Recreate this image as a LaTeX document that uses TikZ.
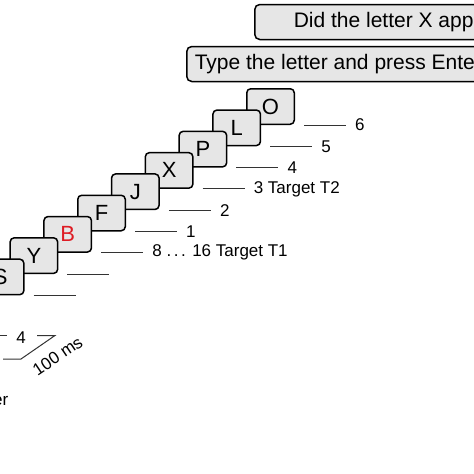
\documentclass[tikz,border=0pt]{standalone}
\usepackage{fontspec}
\setmainfont{Liberation Sans}
\usetikzlibrary{positioning}
\definecolor{keygray}{RGB}{230,230,230}
\definecolor{targetred}{RGB}{222,28,36}

\begin{document}
\begin{tikzpicture}[x=1pt, y=-1pt,
    letterbox/.style={draw, line width=1.5pt, fill=keygray, rounded corners=4pt, minimum width=47.5pt, minimum height=35.5pt, inner sep=0pt, font=\fontsize{22}{26}\selectfont},
    prompt/.style={draw, line width=1.5pt, fill=keygray, rounded corners=5pt, minimum height=35pt, inner ysep=0pt, anchor=west, font=\fontsize{21}{25}\selectfont},
    tick/.style={line width=1pt, black!80},
    count/.style={anchor=west, inner sep=0pt, font=\fontsize{17}{20}\selectfont}
]
\useasboundingbox (0,0) rectangle (474,474);
\clip (0,0) rectangle (474,474);
% prompts
\node[prompt, inner xsep=39pt] (ask) at (254,22) {Did the letter X appear?};
\node[prompt, inner xsep=8pt] (type) at (186,64) {Type the letter and press Enter};
% letter stream, drawn back to front
\node[letterbox] (o) at (270.5,106.5) {O};
\node[letterbox] (l) at (236.7,127.8) {L};
\node[letterbox] (p) at (202.9,149.1) {P};
\node[letterbox] (x) at (169.1,170.4) {X};
\node[letterbox] (j) at (135.3,191.7) {J};
\node[letterbox] (f) at (101.5,213.0) {F};
\node[letterbox, text=targetred] (b) at (67.7,234.3) {B};
\node[letterbox] (y) at (33.9,255.6) {Y};
\node[letterbox] (s) at (0.1,276.9) {S};
% lag ticks
\coordinate[right=9pt of o.south east] (o1);
\coordinate[right=42pt of o1] (o2);
\node[count, right=9pt of o2] (lag6) {6};
\coordinate[right=9pt of l.south east] (l1);
\coordinate[right=42pt of l1] (l2);
\node[count, right=9pt of l2] (lag5) {5};
\coordinate[right=9pt of p.south east] (p1);
\coordinate[right=42pt of p1] (p2);
\node[count, right=9pt of p2] (lag4) {4};
\coordinate[right=9pt of x.south east] (x1);
\coordinate[right=42pt of x1] (x2);
\node[count, right=9pt of x2] (lag3) {3 Target T2};
\coordinate[right=9pt of j.south east] (j1);
\coordinate[right=42pt of j1] (j2);
\node[count, right=9pt of j2] (lag2) {2};
\coordinate[right=9pt of f.south east] (f1);
\coordinate[right=42pt of f1] (f2);
\node[count, right=9pt of f2] (lag1) {1};
\coordinate[right=9pt of b.south east] (b1);
\coordinate[right=42pt of b1] (b2);
\node[count, right=9pt of b2] (sp) {8 .\hspace{2.6pt}.\hspace{2.6pt}. 16 Target T1};
\coordinate[right=9pt of y.south east] (y1);
\coordinate[right=42pt of y1] (y2);
\coordinate[right=9pt of s.south east] (s1);
\coordinate[right=42pt of s1] (s2);
\draw[tick] (o1) -- (o2);
\draw[tick] (l1) -- (l2);
\draw[tick] (p1) -- (p2);
\draw[tick] (x1) -- (x2);
\draw[tick] (j1) -- (j2);
\draw[tick] (f1) -- (f2);
\draw[tick] (b1) -- (b2);
\draw[tick] (y1) -- (y2);
\draw[tick] (s1) -- (s2);
% timing
\coordinate (t0) at (-5,335.5);
\coordinate (t1) at (7,335.5);
\node[count, anchor=center] (four) at (21,338) {4};
\coordinate (t2) at (37,335.5);
\coordinate (t3) at (55,335.5);
\coordinate (t4) at (21,359);
\coordinate (t5) at (3,359);
\draw[tick] (t0) -- (t1);
\draw[tick] (t2) -- (t3) -- (t4) -- (t5);
\node[count, anchor=center, rotate=34] (dur) at (57.5,356) {100 ms};
\node[count, anchor=east] (cut) at (8.5,401) {er};
\end{tikzpicture}
\end{document}
